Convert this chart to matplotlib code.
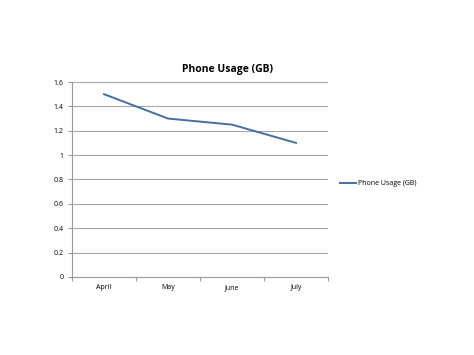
import matplotlib
matplotlib.use("Agg")
import matplotlib.pyplot as plt
import numpy as np

categories = ["April", "May", "June", "July"]
usage = [1.5, 1.3, 1.25, 1.1]
yticks = [0, 0.2, 0.4, 0.6, 0.8, 1, 1.2, 1.4, 1.6]
ytick_labels = ["0", "0.2", "0.4", "0.6", "0.8", "1", "1.2", "1.4", "1.6"]

plt.rcParams['font.family'] = ['Open Sans', 'DejaVu Sans']
fig = plt.figure(figsize=(4.74, 3.55), dpi=100)
ax = fig.add_axes([0.152, 0.220, 0.540, 0.549])
x = np.arange(len(categories))
line, = ax.plot(x, usage, color="#43709F", linewidth=1.4, label="Phone Usage (GB)")
ax.set_xlim(-0.5, len(categories) - 0.5)
ax.set_ylim(0, 1.6)
ax.set_yticks(yticks)
ax.set_yticklabels(ytick_labels, fontsize=5)
ax.set_xticks(x)
ax.set_xticklabels(categories, fontsize=5)
ax.tick_params(axis='x', length=0, pad=5)
ax.set_xticks(np.arange(len(categories) + 1) - 0.5, minor=True)
ax.tick_params(axis='x', which='minor', length=3, color='#9A9A9A', width=0.8)
ax.tick_params(axis='y', length=3, color='#9A9A9A', width=0.8, pad=3)
ax.grid(axis='y', color='#A6A6A6', linewidth=0.8)
ax.set_axisbelow(True)
for s in ['top', 'right']:
    ax.spines[s].set_visible(False)
for s in ['left', 'bottom']:
    ax.spines[s].set_color('#9A9A9A')
    ax.spines[s].set_linewidth(0.8)
fig.text(0.481, 0.803, "Phone Usage (GB)", fontsize=7.5, fontweight='bold',
         ha='center', va='center')
fig.legend(handles=[line], loc='center left', bbox_to_anchor=(0.705, 0.482),
           frameon=False, fontsize=5, handlelength=2.2, handletextpad=0.3)
fig.savefig("out.png", dpi=100)
